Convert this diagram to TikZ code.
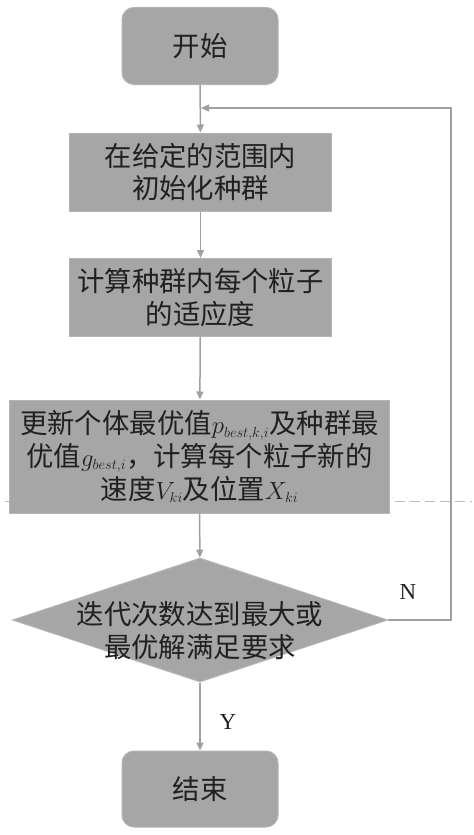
\documentclass[tikz,border=0pt]{standalone}
\usepackage{fontspec}
\setmainfont{Noto Sans CJK SC}
\newfontfamily\latinserif{Liberation Serif}
\usetikzlibrary{shapes.geometric,arrows.meta}
\definecolor{boxfill}{HTML}{A6A6A6}
\definecolor{boxline}{HTML}{B4B4B4}
\definecolor{conn}{HTML}{A0A0A0}
\definecolor{txt}{HTML}{202020}
\newcommand{\subx}[1]{_{\scriptscriptstyle #1}}
\begin{document}
\begin{tikzpicture}[x=1bp,y=-1bp,
  box/.style={draw=boxline, line width=1bp, fill=boxfill, text=txt, align=center, inner sep=0pt,
    font=\fontsize{27.5}{33}\selectfont},
  term/.style={box, rounded corners=12bp, minimum width=156bp, minimum height=77bp},
  proc/.style={box, minimum width=261bp, minimum height=78bp},
  arr/.style={draw=conn, line width=1.5bp, -{Triangle[length=8bp,width=7bp]}},
  lbl/.style={text=txt, inner sep=0pt, font=\latinserif\fontsize{23}{23}\selectfont},
  dash line/.style={draw=conn!70, line width=1bp, dash pattern=on 10bp off 5bp}]
\useasboundingbox (0,0) rectangle (474,835);
\fill[white] (0,0) rectangle (474,835);
% dashed divider behind the boxes
\coordinate (dl) at (5,501);
\coordinate (dr) at (472,501);
\draw[dash line] (dl) -- (dr);
% nodes
\node[term] (start) at (200,46) {开始};
\node[proc] (init) at (200.5,172) {在给定的范围内\\初始化种群};
\node[proc] (fit) at (200.5,297.5) {计算种群内每个粒子\\的适应度};
\node[box, minimum width=379bp, minimum height=113bp] (upd) at (199.5,456.5)
  {更新个体最优值$p\subx{best,k,i}$及种群最\\优值$g\subx{best,i}$，计算每个粒子新的\\速度$V\subx{ki}$及位置$X\subx{ki}$};
\node[diamond, draw=boxline, line width=1bp, fill=boxfill, inner sep=0pt,
  minimum width=375bp, minimum height=124bp] (dec) at (200,620) {};
\node[text=txt, align=center, inner sep=0pt, font=\fontsize{27.5}{33}\selectfont] (dectext) at (200,631)
  {迭代次数达到最大或\\最优解满足要求};
\node[term, minimum height=76bp] (end) at (200,789) {结束};
% connectors
\coordinate (fb) at (201,108);
\draw[arr] (start) -- (init);
\draw[arr] (init) -- (fit);
\draw[arr] (fit) -- (upd);
\draw[arr] (upd) -- (dec);
\draw[arr] (dec) -- (end);
\draw[arr] (dec.east) -| (451,108) -- (fb);
\node[lbl] (ylab) at (228,722) {Y};
\node[lbl] (nlab) at (408,592) {N};
\end{tikzpicture}
\end{document}
